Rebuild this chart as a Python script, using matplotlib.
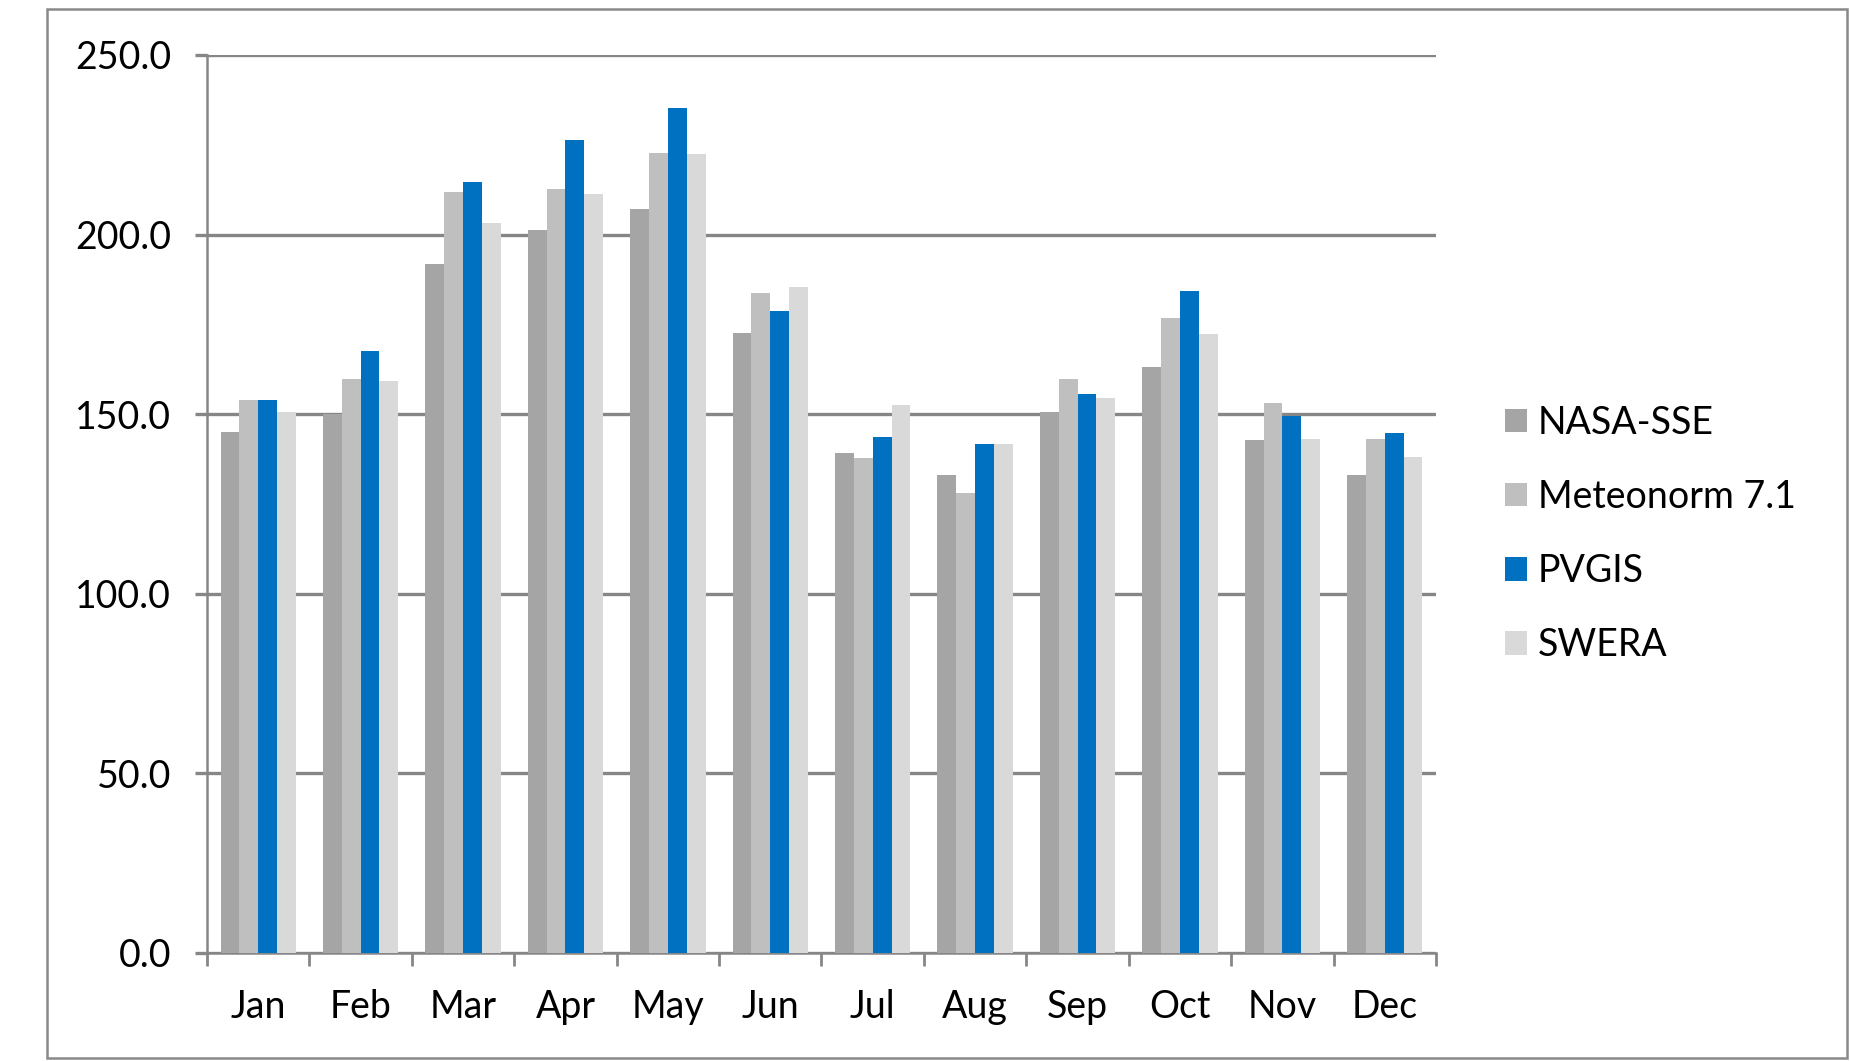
import matplotlib
matplotlib.use("Agg")
import matplotlib.pyplot as plt
from matplotlib.patches import Rectangle
import numpy as np

months = ["Jan", "Feb", "Mar", "Apr", "May", "Jun", "Jul", "Aug", "Sep", "Oct", "Nov", "Dec"]
series_names = ["NASA-SSE", "Meteonorm 7.1", "PVGIS", "SWERA"]
nasa_sse = [145.0, 150.0, 191.7, 201.3, 207.2, 172.6, 139.3, 133.0, 150.7, 163.1, 142.7, 133.0]
meteonorm = [154.0, 159.8, 211.8, 212.7, 222.7, 183.8, 137.8, 128.0, 159.9, 176.9, 153.0, 143.0]
pvgis = [154.0, 167.5, 214.6, 226.2, 235.3, 178.6, 143.7, 141.6, 155.6, 184.4, 149.6, 144.7]
swera = [150.6, 159.1, 203.2, 211.2, 222.3, 185.3, 152.5, 141.6, 154.4, 172.3, 143.2, 138.1]
colors = ["#A5A5A5", "#BFBFBF", "#0070C0", "#D9D9D9"]
y_ticks = [0, 50, 100, 150, 200, 250]

plt.rcParams["font.family"] = ["Lato", "DejaVu Sans"]

fig = plt.figure(figsize=(18.5, 10.61), dpi=100)
ax = fig.add_axes([0.1119, 0.1018, 0.7762 - 0.1119, 0.9482 - 0.1018])

grey = "#868686"
x = np.arange(len(months))
w = 0.735 / 4
for j, (name, vals) in enumerate(zip(series_names, [nasa_sse, meteonorm, pvgis, swera])):
    ax.bar(x + (j - 1.5) * w, vals, width=w, color=colors[j], label=name, zorder=3)

ax.set_xlim(-0.5, len(months) - 0.5)
ax.set_ylim(0, 250)
ax.set_yticks(y_ticks)
ax.set_yticklabels([f"{v:.1f}" for v in y_ticks])
ax.yaxis.grid(True, color=grey, linewidth=2.4, zorder=0)
ax.set_axisbelow(True)

ax.set_xticks(x)
ax.set_xticklabels(months)
ax.set_xticks(np.arange(-0.5, len(months)), minor=True)
ax.tick_params(axis="x", which="major", length=0, pad=26, labelsize=27)
ax.tick_params(axis="x", which="minor", length=9.5, width=2.0, color=grey, direction="out")
ax.tick_params(axis="y", length=9, width=2.4, color=grey, direction="out", pad=17, labelsize=27)

for side in ("top", "right"):
    ax.spines[side].set_visible(False)
for side in ("left", "bottom"):
    ax.spines[side].set_color(grey)
    ax.spines[side].set_linewidth(1.8)

fig.legend(loc="center left", bbox_to_anchor=(0.8135, 0.4967), frameon=False,
           fontsize=27, handlelength=0.58, handleheight=0.58, handletextpad=0.3,
           labelspacing=1.02, borderpad=0, borderaxespad=0)

fig.patches.append(Rectangle((0.0254, 0.0028), 0.973, 0.9887, transform=fig.transFigure,
                             fill=False, edgecolor="#898989", linewidth=1.8))

fig.savefig("out.png", dpi=100)
